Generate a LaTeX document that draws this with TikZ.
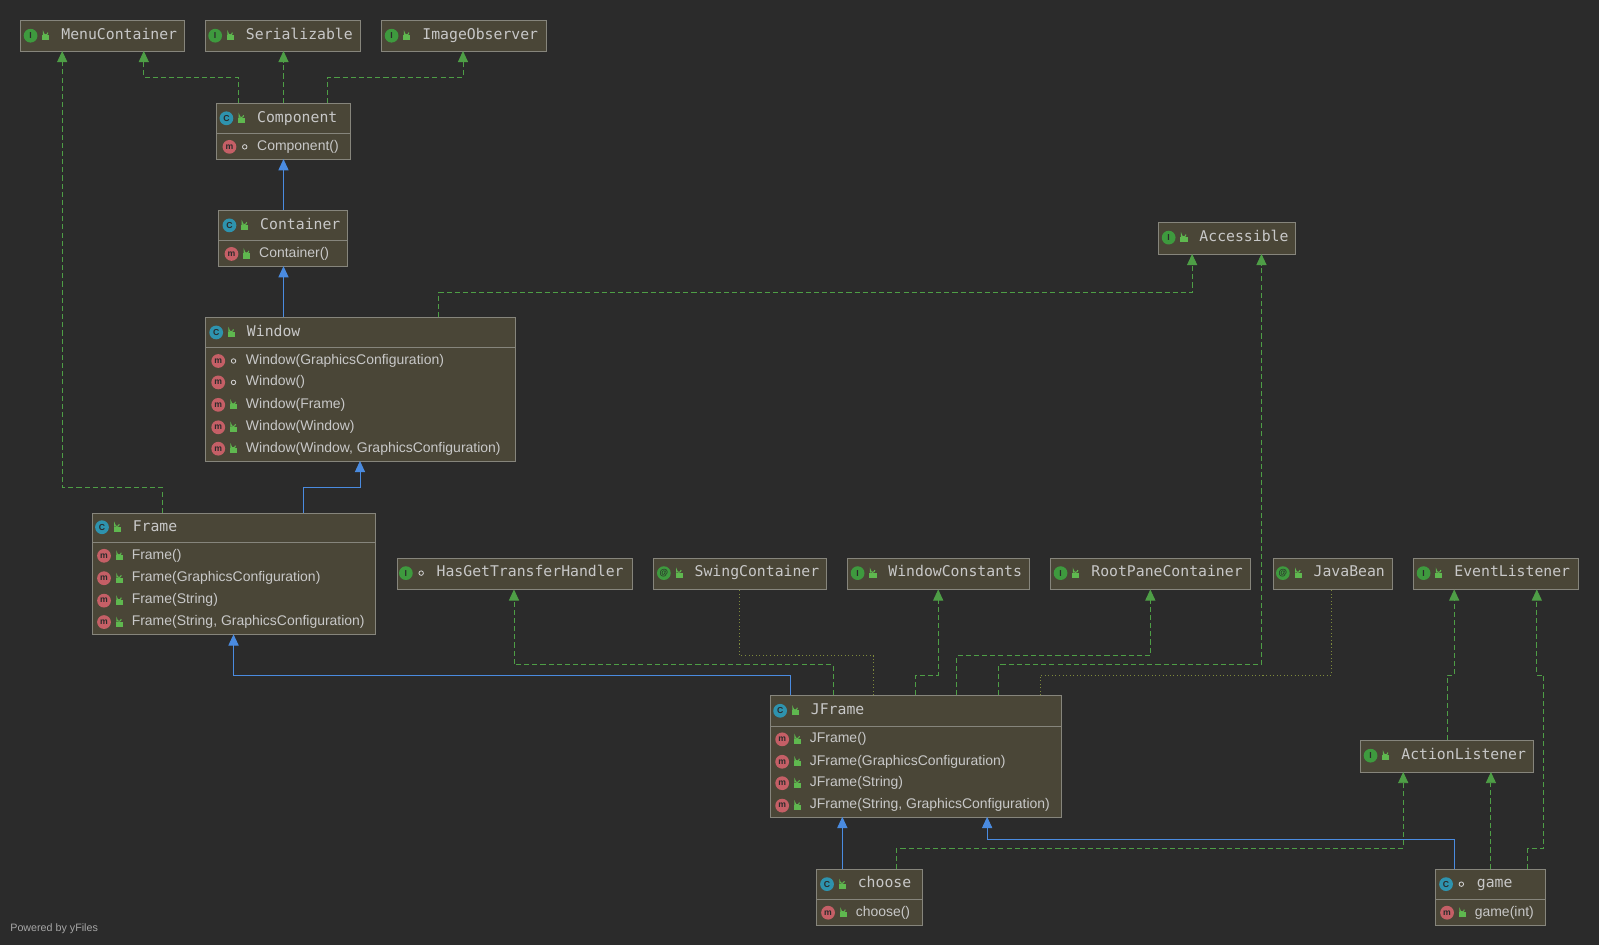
\documentclass[tikz,border=0pt]{standalone}
\usepackage{fontspec}
\setmainfont{Liberation Sans}
\newfontfamily\mono{DejaVu Sans Mono}
\usetikzlibrary{arrows.meta}
\definecolor{bg}{HTML}{2B2B2B}
\definecolor{boxf}{HTML}{4A4637}
\definecolor{boxd}{HTML}{86857C}
\definecolor{txt}{HTML}{C8C8C8}
\definecolor{gi}{HTML}{3E9A3E}
\definecolor{ci}{HTML}{2E93AE}
\definecolor{mi}{HTML}{C55F66}
\definecolor{lockg}{HTML}{5FB84F}
\definecolor{garr}{HTML}{4E9E46}
\definecolor{barr}{HTML}{4A8BE0}
\definecolor{dotc}{HTML}{7E8A3C}
\tikzset{
 ubox/.style={draw=boxd,fill=boxf,line width=0.8,inner sep=0,rectangle},
 hd/.style={font=\mono\fontsize{14.5}{16}\selectfont,text=txt,anchor=west,inner sep=0,text height=10.5,text depth=3},
 mb/.style={font=\fontsize{13.7}{15}\selectfont,text=txt,anchor=west,inner sep=0,text height=9.5,text depth=3},
 real/.style={garr,line width=0.9,dash pattern=on 5 off 3,-{Triangle[length=11,width=10]}},
 ext/.style={barr,line width=0.9,-{Triangle[length=11,width=10]}},
 dep/.style={dotc,line width=0.9,dash pattern=on 1 off 2.5},
}
\newcommand\ubox[5]{\node[ubox,minimum width=#4-#2,minimum height=#5-#3,anchor=north west] (#1) at (#2,#3) {};}
\newcommand\sep[3]{\draw[boxd,line width=0.6] (#1,#3)--(#2,#3);}
\newcommand\ico[4]{\node[circle,fill=#3,minimum size=13.5,inner sep=0,font=\bfseries\fontsize{8.5}{8.5}\selectfont,text=bg] at (#1,#2) {#4};}
\newcommand\lk[2]{\fill[lockg] (#1-3.5,#2-0.5) rectangle (#1+3.5,#2+4.5);\draw[lockg,line width=1] (#1-2.5,#2-0.5)--(#1-2.5,#2-3) arc(180:0:2.2);}
\newcommand\pk[2]{\draw[txt!80,line width=0.8] (#1,#2) circle (2.2);}
\newcommand\hdr[6]{\ico{#1}{#2}{#3}{#4}\if#6l\lk{#1+15}{#2}\else\pk{#1+15}{#2}\fi\node[hd] at (#1+30,#2) {#5};}
\newcommand\mem[4]{\ico{#1}{#2}{mi}{m}\if#4l\lk{#1+15}{#2}\else\pk{#1+15}{#2}\fi\node[mb] at (#1+27,#2) {#3};}
\begin{document}
\begin{tikzpicture}[x=1pt,y=-1pt]
\fill[bg] (0,0) rectangle (1568,927);
\useasboundingbox (0,0) rectangle (1568,927);
% boxes
\ubox{menu}{20}{20}{180}{50}\hdr{30}{35}{gi}{I}{MenuContainer}{l}
\ubox{ser}{201}{20}{353}{50}\hdr{211}{35}{gi}{I}{Serializable}{l}
\ubox{img}{374}{20}{535}{50}\hdr{384}{35}{gi}{I}{ImageObserver}{l}
\ubox{comp}{212}{101}{343}{156}\sep{212}{343}{131}\hdr{222}{116}{ci}{C}{Component}{l}\mem{225}{144}{Component()}{p}
\ubox{cont}{214}{206}{340}{261}\sep{214}{340}{236}\hdr{225}{221}{ci}{C}{Container}{l}\mem{227}{249}{Container()}{l}
\ubox{win}{201}{311}{505}{452}\sep{201}{505}{341}\hdr{212}{326}{ci}{C}{Window}{l}
\mem{214}{354}{Window(GraphicsConfiguration)}{p}\mem{214}{375}{Window()}{p}\mem{214}{397}{Window(Frame)}{l}\mem{214}{419}{Window(Window)}{l}\mem{214}{440}{Window(Window, GraphicsConfiguration)}{l}
\ubox{frame}{90}{503}{368}{622}\sep{90}{368}{532}\hdr{100}{517}{ci}{C}{Frame}{l}
\mem{102}{545}{Frame()}{l}\mem{102}{567}{Frame(GraphicsConfiguration)}{l}\mem{102}{589}{Frame(String)}{l}\mem{102}{610}{Frame(String, GraphicsConfiguration)}{l}
\ubox{acc}{1136}{218}{1270}{249}\hdr{1146}{233}{gi}{I}{Accessible}{l}
\ubox{hgt}{389}{547}{620}{578}\hdr{398}{562}{gi}{I}{HasGetTransferHandler}{p}
\ubox{swc}{640}{547}{810}{578}\hdr{651}{562}{gi}{@}{SwingContainer}{l}
\ubox{wc}{831}{547}{1009}{578}\hdr{841}{562}{gi}{I}{WindowConstants}{l}
\ubox{rpc}{1030}{547}{1226}{578}\hdr{1040}{562}{gi}{I}{RootPaneContainer}{l}
\ubox{jb}{1248}{547}{1365}{578}\hdr{1258}{562}{gi}{@}{JavaBean}{l}
\ubox{el}{1386}{547}{1547}{578}\hdr{1396}{562}{gi}{I}{EventListener}{l}
\ubox{jf}{755}{682}{1040}{801}\sep{755}{1040}{712}\hdr{765}{697}{ci}{C}{JFrame}{l}
\mem{767}{725}{JFrame()}{l}\mem{767}{747}{JFrame(GraphicsConfiguration)}{l}\mem{767}{768}{JFrame(String)}{l}\mem{767}{790}{JFrame(String, GraphicsConfiguration)}{l}
\ubox{al}{1334}{726}{1503}{757}\hdr{1344}{741}{gi}{I}{ActionListener}{l}
\ubox{ch}{800}{852}{904}{907}\sep{800}{904}{882}\hdr{811}{867}{ci}{C}{choose}{l}\mem{812}{895}{choose()}{l}
\ubox{gm}{1407}{852}{1515}{907}\sep{1407}{1515}{882}\hdr{1418}{867}{ci}{C}{game}{p}\mem{1419}{895}{game(int)}{l}
\node[font=\fontsize{10.5}{12}\selectfont,text=gray!70,anchor=west,inner sep=0] (pw) at (10,911) {Powered by yFiles};
% edges
\draw[real] (234,101) |- (141,76) -- (141,50);
\draw[real] (278,101) -- (278,50);
\draw[real] (321,101) |- (454,76) -- (454,50);
\draw[ext] (278,206) -- (278,156);
\draw[ext] (278,311) -- (278,261);
\draw[real] (430,311) |- (1169,287) -- (1169,249);
\draw[real] (159,503) |- (61,478) -- (61,50);
\draw[ext] (298,503) |- (353,478) -- (353,452);
\draw[ext] (775,682) |- (229,662) -- (229,622);
\draw[real] (817,682) |- (504,652) -- (504,578);
\draw[dep] (857,682) |- (725,643) -- (725,578);
\draw[real] (898,682) |- (920,662) -- (920,578);
\draw[real] (938,682) |- (1128,643) -- (1128,578);
\draw[real] (979,682) |- (1237,652) -- (1237,249);
\draw[dep] (1020,682) |- (1306,662) -- (1306,578);
\draw[real] (1419,726) |- (1426,662) -- (1426,578);
\draw[ext] (826,852) -- (826,801);
\draw[real] (879,852) |- (1376,832) -- (1376,757);
\draw[ext] (1426,852) |- (968,823) -- (968,801);
\draw[real] (1462,852) -- (1462,757);
\draw[real] (1498,852) |- (1514,832) |- (1507,662) -- (1507,578);
\end{tikzpicture}
\end{document}
